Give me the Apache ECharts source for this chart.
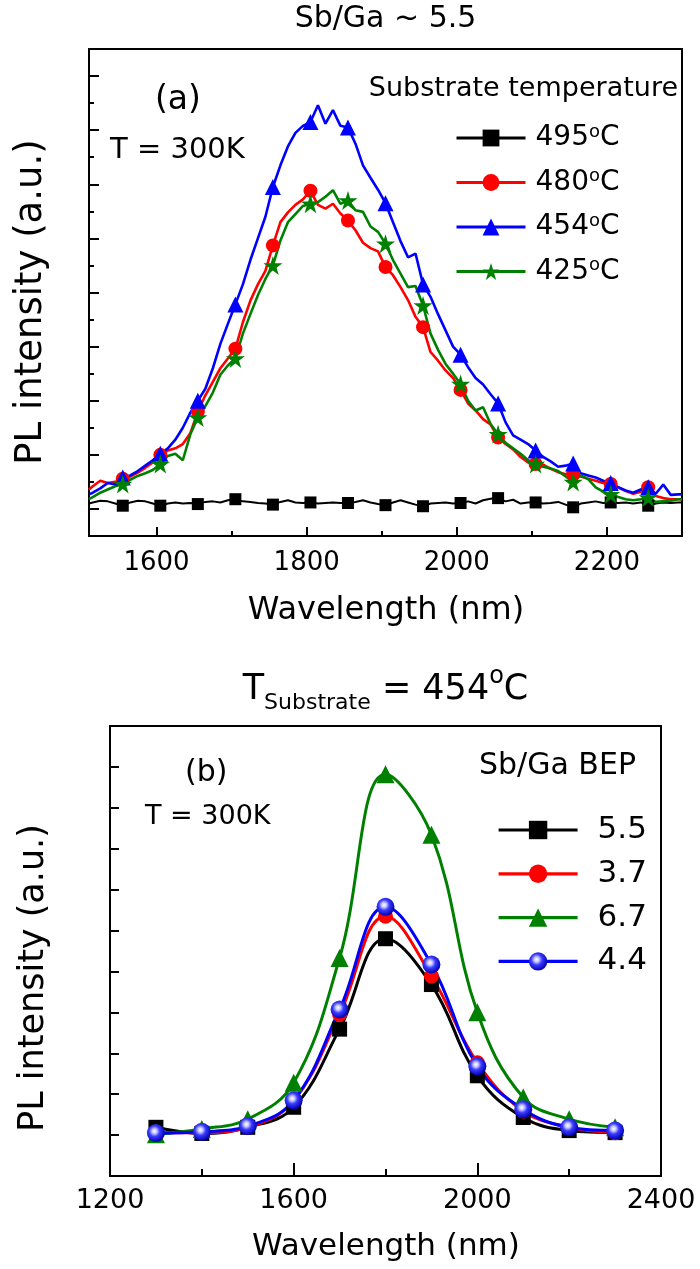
<!DOCTYPE html>
<html><head><meta charset="utf-8">
<script src="https://cdn.jsdelivr.net/npm/echarts@6/dist/echarts.min.js"></script>
<style>html,body{margin:0;padding:0;background:#fff}#c{width:700px;height:1269px}</style>
</head><body><div id="c"></div>
<script>
// ---------- Panel (a): PL spectra vs substrate temperature ----------
const wavelengthsA = [1510,1515,1525,1535,1545,1555,1565,1575,1585,1595,
 1605,1615,1625,1635,1645,1655,1665,1675,1685,1695,
 1705,1715,1725,1735,1745,1755,1765,1775,1785,1795,
 1805,1815,1825,1835,1845,1855,1865,1875,1885,1895,
 1905,1915,1925,1935,1945,1955,1965,1975,1985,1995,
 2005,2015,2025,2035,2045,2055,2065,2075,2085,2095,
 2105,2115,2125,2135,2145,2155,2165,2175,2185,2195,
 2205,2215,2225,2235,2245,2255,2265,2275,2285,2295,
 2300];
const markerWavelengthsA = [1555,1605,1655,1705,1755,1805,1855,1905,1955,2005,2055,2105,2155,2205,2255];
const pl495 = [0.10,0.12,0.15,0.14,0.10,0.06,0.12,0.15,0.14,0.10,
 0.06,0.10,0.12,0.10,0.11,0.09,0.13,0.14,0.12,0.16,
 0.18,0.14,0.13,0.11,0.10,0.08,0.13,0.16,0.12,0.11,
 0.12,0.10,0.11,0.12,0.11,0.11,0.13,0.16,0.12,0.09,
 0.07,0.12,0.16,0.12,0.08,0.05,0.10,0.11,0.12,0.10,
 0.11,0.14,0.10,0.16,0.19,0.20,0.14,0.17,0.10,0.12,
 0.12,0.10,0.11,0.13,0.08,0.03,0.10,0.12,0.14,0.11,
 0.12,0.11,0.12,0.10,0.12,0.06,0.10,0.12,0.11,0.12,
 0.12];
const pl480 = [0.36,0.42,0.52,0.48,0.50,0.56,0.60,0.67,0.76,0.86,
 1.00,1.08,1.12,1.20,1.40,1.80,2.10,2.35,2.60,2.78,
 2.96,3.45,3.85,4.15,4.40,4.87,5.30,5.48,5.62,5.72,
 5.88,5.62,5.55,5.64,5.46,5.33,5.15,4.92,4.82,4.76,
 4.47,4.32,4.10,3.86,3.55,3.36,2.90,2.74,2.56,2.42,
 2.20,1.95,1.82,1.66,1.56,1.32,1.20,1.10,0.96,0.86,
 0.83,0.82,0.74,0.68,0.64,0.64,0.60,0.56,0.52,0.48,
 0.46,0.40,0.33,0.28,0.32,0.40,0.24,0.20,0.18,0.18,
 0.18];
const pl454 = [0.27,0.30,0.38,0.48,0.45,0.58,0.62,0.70,0.80,0.90,
 1.02,1.12,1.28,1.50,1.78,2.00,2.22,2.60,3.05,3.42,
 3.78,4.15,4.60,5.00,5.40,5.95,6.35,6.70,6.95,7.08,
 7.15,7.46,7.12,7.37,7.08,7.05,6.75,6.35,6.12,5.90,
 5.65,5.30,4.95,4.65,4.72,4.15,3.92,3.60,3.30,3.00,
 2.85,2.62,2.42,2.30,2.12,1.95,1.60,1.36,1.28,1.20,
 1.08,0.96,0.88,0.78,0.80,0.84,0.66,0.62,0.58,0.52,
 0.48,0.40,0.34,0.30,0.36,0.40,0.28,0.45,0.26,0.27,
 0.27];
const pl425 = [0.18,0.22,0.30,0.36,0.42,0.46,0.54,0.61,0.66,0.72,
 0.83,0.98,1.02,0.90,1.38,1.69,1.90,2.15,2.48,2.65,
 2.78,3.24,3.60,3.95,4.25,4.50,4.96,5.30,5.45,5.60,
 5.64,5.67,5.77,5.89,5.64,5.70,5.52,5.49,5.22,5.12,
 4.90,4.60,4.35,4.10,4.12,3.76,3.24,2.94,2.68,2.50,
 2.31,2.00,1.82,1.88,1.57,1.38,1.22,1.12,1.02,0.90,
 0.83,0.78,0.75,0.70,0.60,0.50,0.62,0.55,0.40,0.32,
 0.27,0.22,0.18,0.16,0.18,0.21,0.13,0.14,0.15,0.18,
 0.18];
const namesA = ['495°C','480°C','454°C','425°C'];
const xTicksA = [1600,1800,2000,2200];
const xMinorTicksA = [1700,1900,2100];
const yTicksA = [0,1,2,3,4,5,6,7,8];
const yMinorTicksA = [0.5,1.5,2.5,3.5,4.5,5.5,6.5,7.5];

// ---------- Panel (b): PL vs Sb/Ga BEP ratio ----------
const wavelengthsB = [1300,1400,1500,1600,1700,1800,1900,2000,2100,2200,2300];
const bep55 = [0.19,0.04,0.19,0.68,2.59,4.80,3.68,1.45,0.43,0.11,0.06];
const bep37 = [0.06,0.06,0.19,0.84,2.95,5.35,3.89,1.77,0.59,0.19,0.06];
const bep67 = [0.02,0.15,0.39,1.28,4.33,8.82,7.34,3.00,0.92,0.39,0.19];
const bep44 = [0.05,0.08,0.22,0.85,3.07,5.58,4.17,1.68,0.63,0.19,0.11];
const namesB = ['5.5','3.7','6.7','4.4'];

const FONT = 'DejaVu Sans';
const STAR = 'path://M50,0 L61.23,34.55 L97.55,34.55 L68.16,55.9 L79.39,90.45 L50,69.1 L20.61,90.45 L31.84,55.9 L2.45,34.55 L38.77,34.55 Z';
const SPHERE = {type:'radial', x:0.42, y:0.4, r:0.6, colorStops:[
  {offset:0, color:'#ffffff'},{offset:0.22, color:'#c8c8ff'},{offset:0.5, color:'#3a3aff'},{offset:1, color:'#0000b0'}]};

function specData(vals){
  return wavelengthsA.map((w,i)=> markerWavelengthsA.indexOf(w) >= 0
    ? [w, vals[i]] : {value:[w, vals[i]], symbol:'none'});
}
function pairs(xs, ys){ return xs.map((x,i)=>[x, ys[i]]); }

function specSeries(name, vals, color, symbol, size, width){
  return {type:'line', name, xAxisIndex:0, yAxisIndex:0, data:specData(vals),
    symbol, symbolSize:size, showAllSymbol:true, animation:false,
    lineStyle:{color, width}, itemStyle:{color}, emphasis:{disabled:true}};
}
function bepSeries(name, vals, color, symbol, size){
  return {type:'line', name, xAxisIndex:2, yAxisIndex:2, data:pairs(wavelengthsB, vals),
    smooth:0.4, symbol, symbolSize:size, showAllSymbol:true, animation:false,
    lineStyle:{color: (typeof color === 'string') ? color : '#0000ff', width:3},
    itemStyle:{color}, emphasis:{disabled:true}};
}

const axisLine = {show:true, onZero:false, lineStyle:{color:'#000', width:2}};
const noLine = {show:false, onZero:false};
const plain = v => String(v);
const supRich = {sup:{fontSize:18, lineHeight:18, verticalAlign:'top', fontFamily:FONT, color:'#000'}};

const option = {
  animation:false,
  textStyle:{fontFamily:FONT, color:'#000'},
  grid:[
    {left:89, top:49, width:593, height:487, show:true, borderColor:'#000', borderWidth:2},
    {left:110, top:726, width:551, height:450, show:true, borderColor:'#000', borderWidth:2}
  ],
  xAxis:[
    {gridIndex:0, type:'value', min:1510, max:2300, position:'bottom',
     axisLine, splitLine:{show:false},
     axisTick:{show:true, inside:true, length:9, lineStyle:{width:2, color:'#000'}, customValues:xTicksA},
     axisLabel:{show:true, customValues:xTicksA, formatter:plain, fontSize:26, fontFamily:FONT, color:'#000', margin:14}},
    {gridIndex:0, type:'value', min:1510, max:2300, position:'bottom',
     axisLine:noLine, splitLine:{show:false}, axisLabel:{show:false},
     axisTick:{show:true, inside:true, length:5, lineStyle:{width:2, color:'#000'}, customValues:xMinorTicksA}},
    {gridIndex:1, type:'value', min:1200, max:2400, interval:400, position:'bottom',
     axisLine, splitLine:{show:false},
     axisTick:{show:true, inside:true, length:13, lineStyle:{width:2, color:'#000'}},
     minorTick:{show:true, splitNumber:2, length:7, lineStyle:{width:2, color:'#000'}},
     axisLabel:{show:true, formatter:plain, fontSize:27, fontFamily:FONT, color:'#000', margin:11, showMinLabel:true, showMaxLabel:true}}
  ],
  yAxis:[
    {gridIndex:0, type:'value', min:-0.5, max:8.5, position:'left',
     axisLine, splitLine:{show:false}, axisLabel:{show:false},
     axisTick:{show:true, inside:true, length:10, lineStyle:{width:2, color:'#000'}, customValues:yTicksA}},
    {gridIndex:0, type:'value', min:-0.5, max:8.5, position:'left',
     axisLine:noLine, splitLine:{show:false}, axisLabel:{show:false},
     axisTick:{show:true, inside:true, length:5, lineStyle:{width:2, color:'#000'}, customValues:yMinorTicksA}},
    {gridIndex:1, type:'value', min:-1, max:10, interval:1, position:'left',
     axisLine, splitLine:{show:false}, axisLabel:{show:false},
     axisTick:{show:true, inside:true, length:9, lineStyle:{width:2, color:'#000'}}}
  ],
  legend:[
    {data:namesA, orient:'vertical', left:455, top:123, padding:0,
     itemWidth:69, itemHeight:21, itemGap:14.5, selectedMode:false,
     lineStyle:{width:3},
     formatter:n=>n.replace('°','{sup|o}'),
     textStyle:{fontSize:28, lineHeight:30, fontFamily:FONT, color:'#000', padding:[0,0,0,5], rich:supRich}},
    {data:namesB, orient:'vertical', left:497, top:814, padding:0,
     itemWidth:79, itemHeight:23, itemGap:11.8, selectedMode:false,
     lineStyle:{width:3.2},
     textStyle:{fontSize:31, lineHeight:32, fontFamily:FONT, color:'#000', padding:[0,0,0,15]}}
  ],
  graphic:[
    {type:'text', x:385.5, y:19, style:{text:'Sb/Ga ~ 5.5', fontSize:30, fontFamily:FONT, fill:'#000', align:'center', verticalAlign:'middle'}},
    {type:'text', x:155, y:100, style:{text:'(a)', fontSize:33, fontFamily:FONT, fill:'#000', align:'left', verticalAlign:'middle'}},
    {type:'text', x:110, y:150, style:{text:'T = 300K', fontSize:29, fontFamily:FONT, fill:'#000', align:'left', verticalAlign:'middle'}},
    {type:'text', x:678, y:89, style:{text:'Substrate temperature', fontSize:27, fontFamily:FONT, fill:'#000', align:'right', verticalAlign:'middle'}},
    {type:'text', x:386, y:611, style:{text:'Wavelength (nm)', fontSize:32, fontFamily:FONT, fill:'#000', align:'center', verticalAlign:'middle'}},
    {type:'text', x:31, y:302, rotation:Math.PI/2, style:{text:'PL intensity (a.u.)', fontSize:37, fontFamily:FONT, fill:'#000', align:'center', verticalAlign:'middle'}},
    {type:'text', x:385.5, y:664.5, style:{
      text:'{t|T}{s|Substrate}{t| = 454}{p|o}{t|C}', align:'center', verticalAlign:'top', fill:'#000',
      rich:{
        t:{fontSize:35, lineHeight:50, verticalAlign:'middle', fontFamily:FONT, fill:'#000'},
        s:{fontSize:22, lineHeight:16, verticalAlign:'bottom', fontFamily:FONT, fill:'#000'},
        p:{fontSize:24, lineHeight:38, verticalAlign:'top', fontFamily:FONT, fill:'#000'}
      }}},
    {type:'text', x:185, y:773, style:{text:'(b)', fontSize:30, fontFamily:FONT, fill:'#000', align:'left', verticalAlign:'middle'}},
    {type:'text', x:145, y:817, style:{text:'T = 300K', fontSize:27, fontFamily:FONT, fill:'#000', align:'left', verticalAlign:'middle'}},
    {type:'text', x:479, y:766, style:{text:'Sb/Ga BEP', fontSize:30, fontFamily:FONT, fill:'#000', align:'left', verticalAlign:'middle'}},
    {type:'text', x:386, y:1247, style:{text:'Wavelength (nm)', fontSize:31, fontFamily:FONT, fill:'#000', align:'center', verticalAlign:'middle'}},
    {type:'text', x:34, y:978, rotation:Math.PI/2, style:{text:'PL intensity (a.u.)', fontSize:35, fontFamily:FONT, fill:'#000', align:'center', verticalAlign:'middle'}}
  ],
  series:[
    specSeries(namesA[0], pl495, '#000000', 'rect', 12, 2),
    specSeries(namesA[1], pl480, '#ff0000', 'circle', 14, 2.6),
    specSeries(namesA[2], pl454, '#0000ff', 'triangle', 16, 2.6),
    specSeries(namesA[3], pl425, '#008000', STAR, 19, 2.6),
    bepSeries(namesB[0], bep55, '#000000', 'rect', 15),
    bepSeries(namesB[1], bep37, '#ff0000', 'circle', 15),
    bepSeries(namesB[2], bep67, '#008000', 'triangle', 18),
    bepSeries(namesB[3], bep44, SPHERE, 'circle', 18)
  ]
};
const chart = echarts.init(document.getElementById('c'), null, {renderer:'canvas'});
chart.setOption(option);
</script>
</body></html>
